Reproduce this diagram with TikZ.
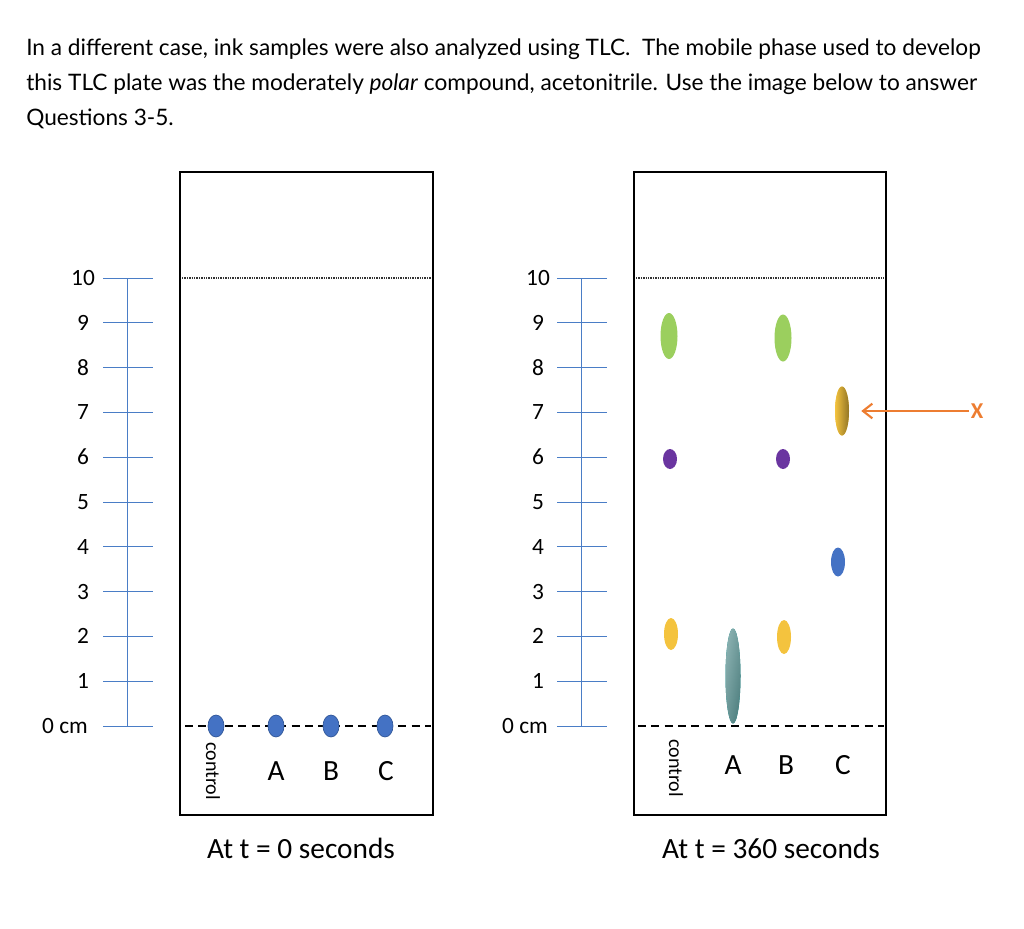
\documentclass[tikz,border=0pt]{standalone}
\usepackage{fontspec}
\setmainfont{Lato}
\newfontfamily\diagfont{Carlito}
\usepackage{xcolor}
\definecolor{rulerblue}{HTML}{4A7DC6}
\definecolor{spotblue}{HTML}{4472C4}
\definecolor{spotedge}{HTML}{2F5597}
\definecolor{spotgreen}{HTML}{9BCF5E}
\definecolor{spotpurple}{HTML}{6A35A0}
\definecolor{spotyellow}{HTML}{F4C33E}
\definecolor{arrorange}{HTML}{ED7D31}
\usetikzlibrary{shapes.geometric,arrows.meta,positioning}

\begin{document}
\begin{tikzpicture}[x=0.75pt,y=-0.75pt,
  plate/.style={draw=black, line width=1.6pt},
  front/.style={line width=1.1pt, dash pattern=on 6pt off 4pt},
  solvent/.style={line width=0.9pt, draw=black!80, dash pattern=on 1pt off 0.8pt},
  tick/.style={draw=rulerblue, line width=0.75pt},
  scale label/.style={inner sep=0pt, font=\diagfont\fontsize{17.5}{20}\selectfont},
  spot/.style n args={3}{ellipse, fill=#1, draw=none, inner sep=0pt,
    minimum width=#2*0.75pt, minimum height=#3*0.75pt},
  lane/.style={font=\diagfont\fontsize{22}{26}\selectfont},
  ctl/.style={rotate=-90, font=\diagfont\fontsize{15}{18}\selectfont},
  caption/.style={font=\diagfont\fontsize{22}{26}\selectfont}]
\useasboundingbox (0,0) rectangle (1024,928);

% Question text
\node[anchor=north west, align=left, inner sep=0pt,
  font=\fontsize{17}{26}\selectfont] (intro) at (26,39)
  {In a different case, ink samples were also analyzed using TLC.\ \ The mobile phase used to develop\\
   this TLC plate was the moderately \textit{polar} compound, acetonitrile. Use the image below to answer\\
   Questions 3-5.};

% Rulers
\foreach \rx in {127,581} {
  \draw[tick] (\rx,278) -- (\rx,726);
  \foreach \i in {0,...,10} {
    \draw[tick] (\rx-24,726-\i*44.8) -- (\rx+26,726-\i*44.8);
  }
}
\foreach \i in {1,...,10} {
  \node[scale label] at (83,726-\i*44.8) {\i};
  \node[scale label] at (538,726-\i*44.8) {\i};
}
\node[scale label] at (65,726) {0 cm};
\node[scale label] at (525,726) {0 cm};

% Plate at t = 0
\draw[plate] (180,172) rectangle (433,815);
\draw[solvent] (182,278) -- (431,278);
\draw[front] (185,726) -- (431,726);
\node[spot={spotblue}{16}{22}, draw=spotedge, line width=0.5pt] (s0) at (216,726) {};
\node[spot={spotblue}{16}{22}, draw=spotedge, line width=0.5pt] (sA) at (276,726) {};
\node[spot={spotblue}{16}{22}, draw=spotedge, line width=0.5pt] (sB) at (331,726) {};
\node[spot={spotblue}{16}{22}, draw=spotedge, line width=0.5pt] (sC) at (385,726) {};
\node[ctl] (lctl) at (213,771) {control};
\node[lane] (lA) at (276,771) {A};
\node[lane] (lB) at (331,771) {B};
\node[lane] (lC) at (386,771) {C};
\node[caption] (cap0) at (301,848) {At t = 0 seconds};

% Plate at t = 360
\draw[plate] (634,172) rectangle (886,815);
\draw[solvent] (636,278) -- (884,278);
\draw[front] (638,726) -- (884,726);
% control lane
\node[spot={spotgreen}{17}{46}] (ctlG) at (669,336) {};
\node[spot={spotpurple}{14}{20}] (ctlP) at (670,459) {};
\node[spot={spotyellow}{14}{32}] (ctlY) at (671,634) {};
% lane A
\node[spot={teal}{15}{95}, shading=axis, left color=teal!35!white!85!black,
  right color=teal!55!black!70!white, shading angle=80] (aT) at (733,676) {};
% lane B
\node[spot={spotgreen}{17}{47}] (bG) at (783,338) {};
\node[spot={spotpurple}{14}{20}] (bP) at (783,459) {};
\node[spot={spotyellow}{14}{34}] (bY) at (784,637) {};
% lane C
\node[spot={spotyellow}{14}{49}, shading=axis, left color=spotyellow,
  right color=spotyellow!60!black] (cX) at (842,411) {};
\node[spot={spotblue}{14}{29}] (cB) at (838,562) {};
\node[ctl] (rctl) at (676,768) {control};
\node[lane] (rA) at (733,765) {A};
\node[lane] (rB) at (786,765) {B};
\node[lane] (rC) at (843,765) {C};
\node[caption] (cap1) at (771,848) {At t = 360 seconds};

% Marker for spot X
\node[text=arrorange, inner sep=1pt, font=\diagfont\bfseries\fontsize{17}{20}\selectfont] (xlab) at (977,411) {X};
\draw[arrorange, line width=1.6pt, -{Straight Barb[length=7pt,width=11pt]}, shorten >=9pt]
  (xlab.west) -- (cX.east);
\end{tikzpicture}
\end{document}
